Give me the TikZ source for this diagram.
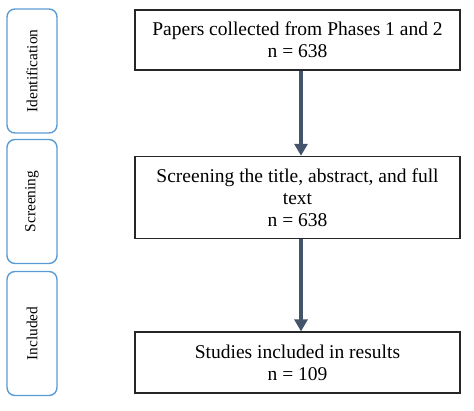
\documentclass[tikz,border=0pt]{standalone}
\usepackage{fontspec}
\setmainfont{Liberation Serif}
\usetikzlibrary{arrows.meta,positioning}
\definecolor{phaseblue}{HTML}{5B9BD5}
\definecolor{arrowgray}{HTML}{44546A}

\begin{document}
\begin{tikzpicture}
	[ x=1pt,y=-1pt,
		phase/.style={rectangle,rotate=90,rounded corners=8pt,draw=phaseblue,line width=1.4pt,minimum width=124pt,minimum height=50pt,inner sep=0pt,font=\fontsize{15.4}{18}\selectfont},
		record/.style={rectangle,draw=black!85,line width=1.6pt,minimum width=325pt,align=center,inner sep=0pt,font=\fontsize{19.5}{22}\selectfont},
		arrowDown/.style={-{Triangle[width=13pt,length=12pt]},line width=4pt,draw=arrowgray}]

	\useasboundingbox (0,0) rectangle (474,411);

	\node[phase] (identification) at (32,71) {Identification};
	\node[phase] (screening phase) at (32,201.5) {Screening};
	\node[phase] (included) at (32,333.5) {Included};

	\node[record,minimum height=60pt] (papers) at (297.5,40) {Papers collected from Phases 1 and 2\\n = 638};
	\node[record,minimum height=82pt] (screening) [below=85pt of papers] {Screening the title, abstract, and full\\text\\n = 638};
	\node[record,minimum height=61pt] (studies) [below=92pt of screening] {Studies included in results\\n = 109};

	\draw[arrowDown] ([xshift=3.5pt]papers.south) -- ([xshift=3.5pt]screening.north);
	\draw[arrowDown] ([xshift=3.5pt]screening.south) -- ([xshift=3.5pt]studies.north);
\end{tikzpicture}
\end{document}
